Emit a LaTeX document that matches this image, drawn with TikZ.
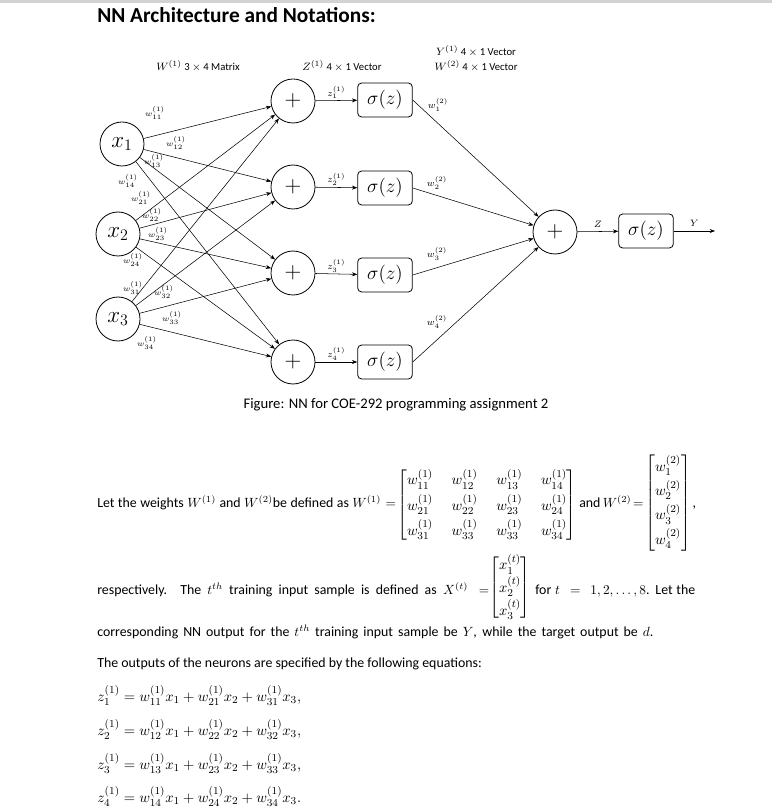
\documentclass[tikz,border=0pt]{standalone}
\usepackage{amsmath}
\usepackage{fontspec}
\setmainfont{Carlito}
\usetikzlibrary{arrows.meta}
\begin{document}
\begin{tikzpicture}[x=0.75pt,y=-0.75pt,
  arr/.style={-{Stealth[length=4pt,width=3pt]},line width=0.4pt},
  inp/.style={circle,draw,line width=0.6pt,minimum size=33pt,inner sep=0pt,font=\fontsize{18}{20}\selectfont},
  sumn/.style={circle,draw,line width=0.6pt,minimum size=33pt,inner sep=0pt,font=\fontsize{16}{18}\selectfont},
  sig/.style={draw,rounded corners=3pt,line width=0.6pt,minimum width=41pt,minimum height=25.5pt,inner sep=0pt,font=\fontsize{15}{17}\selectfont},
  wl/.style={font=\fontsize{6.5}{7}\selectfont,inner sep=0pt},
  zl/.style={font=\fontsize{7}{8}\selectfont,inner sep=1pt},
  hl/.style={font=\fontsize{8}{9}\selectfont,inner sep=0pt},
  txt/.style={anchor=base west,inner sep=0pt,font=\fontsize{10.4}{13}\selectfont},
  eq/.style={anchor=base west,inner sep=0pt,font=\fontsize{11}{13}\selectfont},
  mat/.style={inner sep=0pt,font=\fontsize{11}{13}\selectfont}]
\useasboundingbox (0,0) rectangle (772,812);
\fill[gray!35] (0,0) rectangle (772,3);
\node[anchor=base west,inner sep=0pt,font=\fontsize{16}{18}\selectfont\bfseries] (title) at (97,23) {NN Architecture and Notations:};
% headers
\node[hl] (h1) at (198,66) {$W^{(1)}$ 3 $\times$ 4 Matrix};
\node[hl] (h2) at (342,66) {$Z^{(1)}$ 4 $\times$ 1 Vector};
\node[hl] (h3) at (476,51) {$Y^{(1)}$ 4 $\times$ 1 Vector};
\node[hl] (h4) at (476,66) {$W^{(2)}$ 4 $\times$ 1 Vector};
% inputs
\node[inp] (x1) at (122,144) {$x_1$};
\node[inp] (x2) at (118,234) {$x_2$};
\node[inp] (x3) at (118,319) {$x_3$};
% sums
\node[sumn] (p1) at (293,101) {$+$};
\node[sumn] (p2) at (293,187) {$+$};
\node[sumn] (p3) at (293,273) {$+$};
\node[sumn] (p4) at (293,362) {$+$};
% sigmas
\node[sig] (s1) at (385,100) {$\sigma(z)$};
\node[sig] (s2) at (385,188) {$\sigma(z)$};
\node[sig] (s3) at (385,275) {$\sigma(z)$};
\node[sig] (s4) at (385,362) {$\sigma(z)$};
% output
\node[sumn] (po) at (555,232) {$+$};
\node[sig] (so) at (646,231) {$\sigma(z)$};
\coordinate (yend) at (715,231);
% input edges
\foreach \i in {1,2,3}{\foreach \j in {1,2,3,4}{\draw[arr] (x\i) -- (p\j);}}
% weight labels
\node[wl] (w11) at (155,113) {$w_{11}^{(1)}$};
\node[wl] (w12) at (176,143) {$w_{12}^{(1)}$};
\node[wl] (w13) at (154,161) {$w_{13}^{(1)}$};
\node[wl] (w14) at (128,181) {$w_{14}^{(1)}$};
\node[wl] (w21) at (141,198) {$w_{21}^{(1)}$};
\node[wl] (w22) at (152,215) {$w_{22}^{(1)}$};
\node[wl] (w23) at (158,234) {$w_{23}^{(1)}$};
\node[wl] (w24) at (133,260) {$w_{24}^{(1)}$};
\node[wl] (w31) at (133,288) {$w_{31}^{(1)}$};
\node[wl] (w32) at (164,292) {$w_{32}^{(1)}$};
\node[wl] (w33) at (172,318) {$w_{33}^{(1)}$};
\node[wl] (w34) at (147,343) {$w_{34}^{(1)}$};
% sum to sigma
\draw[arr] (p1) -- node[zl,above]{$z_1^{(1)}$} (s1);
\draw[arr] (p2) -- node[zl,above]{$z_2^{(1)}$} (s2);
\draw[arr] (p3) -- node[zl,above]{$z_3^{(1)}$} (s3);
\draw[arr] (p4) -- node[zl,above]{$z_4^{(1)}$} (s4);
% sigma to output
\foreach \j in {1,2,3,4}{\draw[arr] (s\j.east) -- (po);}
\node[zl] (v1) at (438,105) {$w_1^{(2)}$};
\node[zl] (v2) at (437,183) {$w_2^{(2)}$};
\node[zl] (v3) at (437,254) {$w_3^{(2)}$};
\node[zl] (v4) at (437,322) {$w_4^{(2)}$};
\draw[arr] (po) -- node[zl,above=2pt]{$Z$} (so);
\draw[arr] (so) -- node[zl,above=2pt]{$Y$} (yend);
% caption
\node[font=\fontsize{11}{13}\selectfont,inner sep=0pt] (cap) at (396,405) {Figure: NN for COE-292 programming assignment 2};
% text line 1
\node[txt] (l1a) at (97,507) {\makebox[224pt][s]{Let the weights $W^{(1)}$ and $W^{(2)}$be defined as $W^{(1)} =$}};
\node[mat] (m1) at (487,505) {\renewcommand{\arraystretch}{1.45}\setlength{\arraycolsep}{7pt}$\begin{bmatrix} w_{11}^{(1)} & w_{12}^{(1)} & w_{13}^{(1)} & w_{14}^{(1)}\\ w_{21}^{(1)} & w_{22}^{(1)} & w_{23}^{(1)} & w_{24}^{(1)}\\ w_{31}^{(1)} & w_{33}^{(1)} & w_{33}^{(1)} & w_{34}^{(1)}\end{bmatrix}$};
\node[txt] (l1b) at (579,507) {and\,$W^{(2)}\!=$};
\node[mat,anchor=west] (m2) at ([xshift=1pt,yshift=3pt]l1b.base east) {\renewcommand{\arraystretch}{1.4}$\begin{bmatrix} w_1^{(2)}\\ w_2^{(2)}\\ w_3^{(2)}\\ w_4^{(2)}\end{bmatrix}$};
\node[txt] (l1c) at ([xshift=1pt]m2.east |- l1b.base) {,};
% text line 2
\node[txt] (l2a) at (97,594) {\makebox[294pt][s]{respectively. The $t^{th}$ training input sample is defined as $X^{(t)} =$}};
\node[mat] (m3) at (510,588) {\renewcommand{\arraystretch}{1.3}$\begin{bmatrix} x_1^{(t)}\\ x_2^{(t)}\\ x_3^{(t)}\end{bmatrix}$};
\node[txt] (l2b) at (535,594) {\makebox[120pt][s]{for $t \;=\; 1,2,\ldots,8$. Let the}};
% text line 3, 4
\node[txt] (l3) at (97,636) {\makebox[417pt][s]{corresponding NN output for the $t^{th}$ training input sample be $Y$, while the target output be $d$.}};
\node[txt] (l4) at (97,667) {The outputs of the neurons are specified by the following equations:};
\node[eq] (e1) at (97,701) {$z_1^{(1)}=w_{11}^{(1)}x_1+w_{21}^{(1)}x_2+w_{31}^{(1)}x_3,$};
\node[eq] (e2) at (97,735) {$z_2^{(1)}=w_{12}^{(1)}x_1+w_{22}^{(1)}x_2+w_{32}^{(1)}x_3,$};
\node[eq] (e3) at (97,769) {$z_3^{(1)}=w_{13}^{(1)}x_1+w_{23}^{(1)}x_2+w_{33}^{(1)}x_3,$};
\node[eq] (e4) at (97,802) {$z_4^{(1)}=w_{14}^{(1)}x_1+w_{24}^{(1)}x_2+w_{34}^{(1)}x_3.$};
\end{tikzpicture}
\end{document}
